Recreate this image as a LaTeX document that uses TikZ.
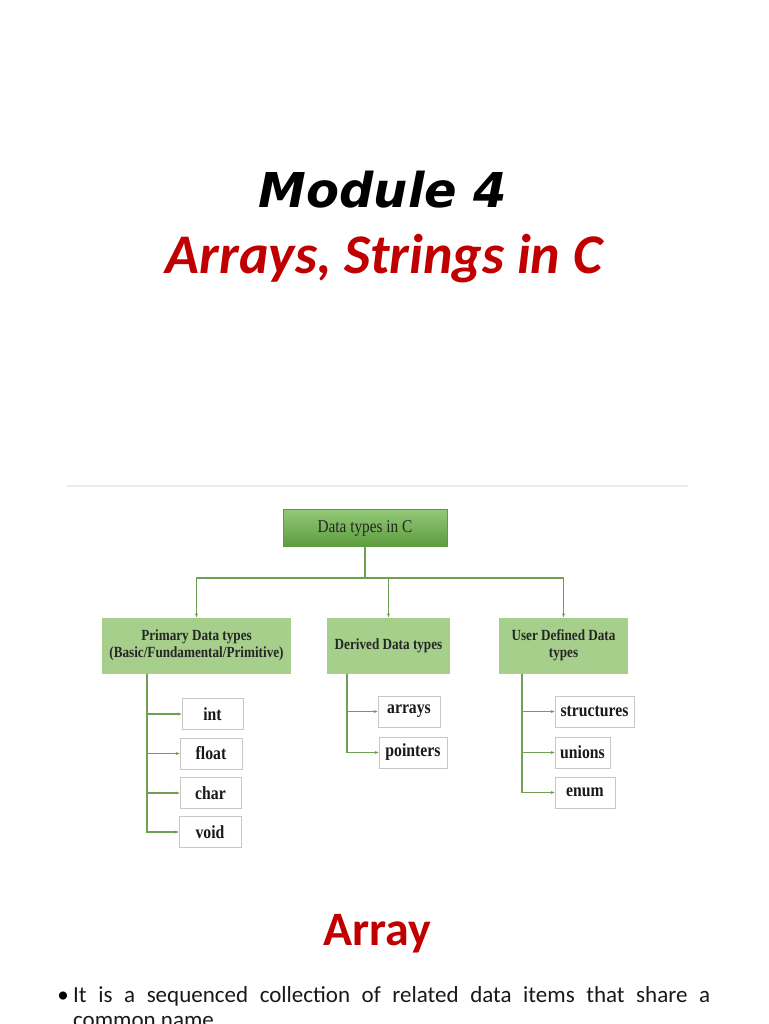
\documentclass[tikz,border=0pt]{standalone}
\usepackage{fontspec}
\usepackage{graphicx}
\setmainfont{Liberation Serif}
\newfontfamily\djvfont{DejaVu Sans}
\newfontfamily\carfont{Carlito}
\usetikzlibrary{arrows.meta,calc}
\newcommand{\sqz}[1]{\scalebox{0.85}[1]{#1}}
\definecolor{titlered}{HTML}{C00000}
\definecolor{lineg}{HTML}{6E9F52}
\definecolor{boxg}{HTML}{A6CF8B}
\definecolor{rootlt}{HTML}{92C975}
\definecolor{rootdk}{HTML}{5E9B3F}
\tikzset{
  rootbox/.style={draw=rootdk, line width=0.6pt, top color=rootlt, bottom color=rootdk,
    minimum width=164pt, minimum height=37pt, inner sep=0pt,
    font=\fontsize{18}{20}\selectfont, text=black!85},
  catbox/.style={fill=boxg, minimum height=56pt, inner sep=0pt, align=center,
    font=\fontsize{15.5}{17}\selectfont\bfseries, text=black!85},
  leafbox/.style={draw=black!22, fill=white, line width=0.8pt, minimum height=31pt, inner sep=0pt,
    font=\fontsize{18.5}{20}\selectfont\bfseries, text=black!90},
  conn/.style={draw=lineg, line width=1.4pt},
  arr/.style={conn, -{Stealth[length=4pt,width=3.2pt]}}
}
\begin{document}
\begin{tikzpicture}[x=1pt,y=-1pt]
\clip (0,0) rectangle (768,1024);
\fill[white] (0,0) rectangle (768,1024);

% titles
\node[font=\djvfont\fontsize{48}{56}\selectfont\bfseries\itshape, anchor=base] (mod) at (383,208) {Module 4};
\node[font=\carfont\fontsize{56}{64}\selectfont\bfseries\itshape, text=titlered, anchor=base] (sub) at (384,273) {Arrays, Strings in C};

% diagram background line
\draw[black!8, line width=1.5pt] (67,486) -- (688,486);

% nodes
\node[rootbox] (root) at (365,528) {\sqz{Data types in C}};
\node[catbox, minimum width=189pt] (prim) at (196.5,645.5) {\sqz{Primary Data types}\\\sqz{(Basic/Fundamental/Primitive)}};
\node[catbox, minimum width=123pt] (der) at (388.5,645.5) {\sqz{Derived Data types}};
\node[catbox, minimum width=129pt] (usr) at (563.5,645.5) {\sqz{User Defined Data}\\\sqz{types}};

\node[leafbox, minimum width=61pt] (int) at (212.5,714) {\sqz{int}};
\node[leafbox, minimum width=62pt] (float) at (211,753.5) {\sqz{float}};
\node[leafbox, minimum width=61pt] (char) at (210.5,793) {\sqz{char}};
\node[leafbox, minimum width=62pt] (void) at (210,832) {\sqz{void}};

\node[leafbox, minimum width=62pt] (arrays) at (409,711.5) {\sqz{arrays}};
\node[leafbox, minimum width=68pt] (pointers) at (413,752.5) {\sqz{pointers}};

\node[leafbox, minimum width=79pt] (struct) at (594.5,711.5) {\sqz{structures}};
\node[leafbox, minimum width=55pt] (unions) at (582.5,752.5) {\sqz{unions}};
\node[leafbox, minimum width=60pt] (enum) at (585,792.5) {\sqz{enum}};

% top connectors
\coordinate (bus) at (365,578);
\draw[conn] (root.south) -- (bus);
\draw[arr] (bus) -| (prim.north);
\draw[arr] (bus) -| (der.north);
\draw[arr] (bus) -| (usr.north);

% child connectors
\coordinate (pt) at (147,673.5);
\coordinate (dt) at (347,673.5);
\coordinate (ut) at (522,673.5);
\foreach \c in {int,float,char,void} { \draw[arr] (pt) |- (\c.west); }
\foreach \c in {arrays,pointers} { \draw[arr] (dt) |- (\c.west); }
\foreach \c in {struct,unions,enum} { \draw[arr] (ut) |- (\c.west); }

% Array heading
\node[font=\carfont\fontsize{48}{56}\selectfont\bfseries, text=titlered, anchor=base] (arrh) at (377,945) {Array};

% bullet text
\node[font=\carfont\fontsize{23}{25.5}\selectfont, anchor=base west, text width=637pt, align=justify, inner sep=0pt, text=black!90] (bul) at (73,1002)
  {It is a sequenced collection of related data items that share a\linebreak common name.};
\node[font=\carfont\fontsize{23}{25.5}\selectfont, anchor=base east, inner sep=0pt] (dot) at (69,1002) {•};
\end{tikzpicture}
\end{document}
